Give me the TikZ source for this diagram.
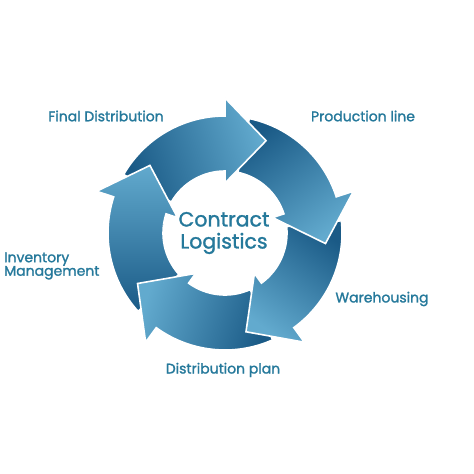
\documentclass[tikz,border=0pt]{standalone}
\usepackage{fontspec}
\setmainfont{Poppins}
\newfontfamily\lblfont{Poppins}[FakeBold=1.4]
\definecolor{ardark}{HTML}{1A5A86}
\definecolor{arlight}{HTML}{62AACE}
\definecolor{txt}{HTML}{25799B}
\tikzset{
  cyclearrow/.style={left color=ardark, right color=arlight, shading angle=#1, draw=white, line width=1.6pt, line join=miter},
  lbl/.style={text=txt, font=\lblfont\fontsize{14}{15.5}\selectfont, inner sep=0pt},
  ctr/.style={text=txt, font=\lblfont\fontsize{20.5}{21}\selectfont, align=center, inner sep=0pt}
}
% arrow with tip angle #1
\newcommand{\cyclearrowpath}[1]{%
  (#1+24:117) arc[start angle=#1+24, end angle=#1+84, radius=117]
  -- (#1+84:62) arc[start angle=#1+84, end angle=#1+24, radius=62]
  -- (#1+24:50) -- (#1:101) -- (#1+24:135) -- cycle}
\begin{document}
\begin{tikzpicture}[x=1pt,y=1pt]
\useasboundingbox (0,0) rectangle (474,474);
\fill[white] (0,0) rectangle (474,474);
\begin{scope}[shift={(225,241)}]
  % arrows drawn in reverse order so each head covers the next tail
  \shade[cyclearrow=180] \cyclearrowpath{138};
  \shade[cyclearrow=252] \cyclearrowpath{210};
  \shade[cyclearrow=-36] \cyclearrowpath{-78};
  \shade[cyclearrow=36] \cyclearrowpath{-6};
  \shade[cyclearrow=108] \cyclearrowpath{66};
  \begin{scope}
    \clip (0,0) -- (128:160) arc[start angle=128, end angle=172, radius=160] -- cycle;
    \shade[cyclearrow=180] \cyclearrowpath{138};
  \end{scope}
\end{scope}
\node[ctr] (c) at (224,241) {Contract\\[1pt]Logistics};
\node[lbl] (fd) at (106,358) {Final Distribution};
\node[lbl] (pl) at (363,358) {Production line};
\node[lbl, anchor=west, align=left] (im) at (4,208) {Inventory\\[-2pt]Management};
\node[lbl] (wh) at (382,175) {Warehousing};
\node[lbl] (dp) at (223,104) {Distribution plan};
\end{tikzpicture}
\end{document}
